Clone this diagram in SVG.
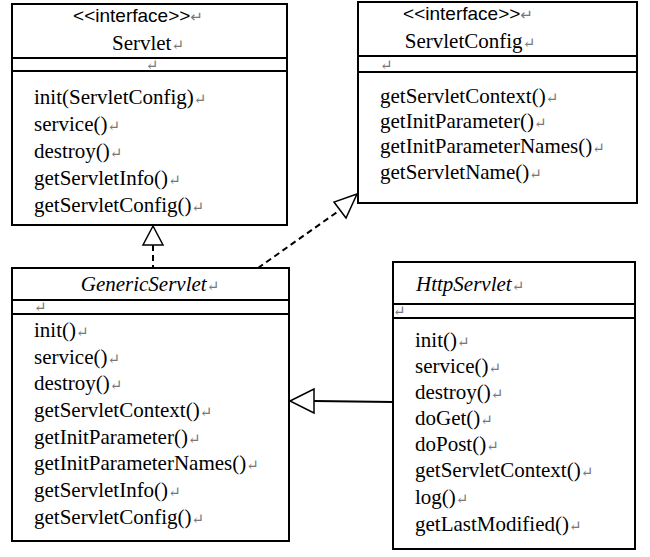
<svg xmlns="http://www.w3.org/2000/svg" width="650" height="557" viewBox="0 0 650 557">
<style>
.b{fill:#fff;stroke:#000;stroke-width:2}
.l{stroke:#000;stroke-width:2}
text{font-family:"Liberation Serif","DejaVu Serif",serif;font-size:21px;fill:#000}
.c{text-anchor:middle}
.i{font-style:italic}
.s{font-family:"Liberation Sans","DejaVu Sans",sans-serif;font-size:19px}
.r{fill:#777;font-size:15px}
.d{stroke:#000;stroke-width:2;stroke-dasharray:6,4;fill:none}
.t{fill:#fff;stroke:#000;stroke-width:1.5}
</style>
<g id="connectors">
<line class="d" x1="153" y1="245" x2="153" y2="268"/>
<polygon class="t" points="153,226 143,245 163,245"/>
<line class="d" x1="258" y1="268" x2="340" y2="210"/>
<polygon class="t" points="357,194 334,202 346,218"/>
<line class="l" x1="393" y1="402" x2="314" y2="401"/>
<polygon class="t" points="290,401 314,389 314,413"/>
</g>
<g id="Servlet">
<rect class="b" x="12" y="4" width="275" height="221"/>
<line class="l" x1="12" y1="58" x2="287" y2="58"/>
<line class="l" x1="12" y1="71" x2="287" y2="71"/>
<text class="c s" x="138" y="22">&lt;&lt;interface&gt;&gt;<tspan class="r">↵</tspan></text>
<text class="c" x="148" y="50">Servlet<tspan class="r">↵</tspan></text>
<text class="c r" x="152" y="70">↵</text>
<text x="34" y="104">init(ServletConfig)<tspan class="r">↵</tspan></text>
<text x="34" y="131">service()<tspan class="r">↵</tspan></text>
<text x="34" y="158">destroy()<tspan class="r">↵</tspan></text>
<text x="34" y="185">getServletInfo()<tspan class="r">↵</tspan></text>
<text x="34" y="212">getServletConfig()<tspan class="r">↵</tspan></text>
</g>
<g id="ServletConfig">
<rect class="b" x="358" y="2" width="279" height="201"/>
<line class="l" x1="358" y1="56" x2="637" y2="56"/>
<line class="l" x1="358" y1="72" x2="637" y2="72"/>
<text class="c s" x="468" y="20">&lt;&lt;interface&gt;&gt;<tspan class="r">↵</tspan></text>
<text class="c" x="470" y="48">ServletConfig<tspan class="r">↵</tspan></text>
<text class="r" x="380" y="70">↵</text>
<text x="380" y="103">getServletContext()<tspan class="r">↵</tspan></text>
<text x="380" y="128">getInitParameter()<tspan class="r">↵</tspan></text>
<text x="380" y="153">getInitParameterNames()<tspan class="r">↵</tspan></text>
<text x="380" y="179">getServletName()<tspan class="r">↵</tspan></text>
</g>
<g id="GenericServlet">
<rect class="b" x="12" y="268" width="277" height="273"/>
<line class="l" x1="12" y1="300" x2="289" y2="300"/>
<line class="l" x1="12" y1="314" x2="289" y2="314"/>
<text class="c i" x="150" y="291">GenericServlet<tspan class="r">↵</tspan></text>
<text class="r" x="34" y="312">↵</text>
<text x="34" y="337">init()<tspan class="r">↵</tspan></text>
<text x="34" y="364">service()<tspan class="r">↵</tspan></text>
<text x="34" y="390">destroy()<tspan class="r">↵</tspan></text>
<text x="34" y="417">getServletContext()<tspan class="r">↵</tspan></text>
<text x="34" y="444">getInitParameter()<tspan class="r">↵</tspan></text>
<text x="34" y="470">getInitParameterNames()<tspan class="r">↵</tspan></text>
<text x="34" y="497">getServletInfo()<tspan class="r">↵</tspan></text>
<text x="34" y="524">getServletConfig()<tspan class="r">↵</tspan></text>
</g>
<g id="HttpServlet">
<rect class="b" x="393" y="262" width="242" height="287"/>
<line class="l" x1="393" y1="304" x2="635" y2="304"/>
<line class="l" x1="393" y1="318" x2="635" y2="318"/>
<text class="i" x="416" y="291">HttpServlet<tspan class="r">↵</tspan></text>
<text class="r" x="393" y="316">↵</text>
<text x="415" y="347">init()<tspan class="r">↵</tspan></text>
<text x="415" y="373">service()<tspan class="r">↵</tspan></text>
<text x="415" y="399">destroy()<tspan class="r">↵</tspan></text>
<text x="415" y="425">doGet()<tspan class="r">↵</tspan></text>
<text x="415" y="451">doPost()<tspan class="r">↵</tspan></text>
<text x="415" y="477">getServletContext()<tspan class="r">↵</tspan></text>
<text x="415" y="504">log()<tspan class="r">↵</tspan></text>
<text x="415" y="531">getLastModified()<tspan class="r">↵</tspan></text>
</g>
</svg>
